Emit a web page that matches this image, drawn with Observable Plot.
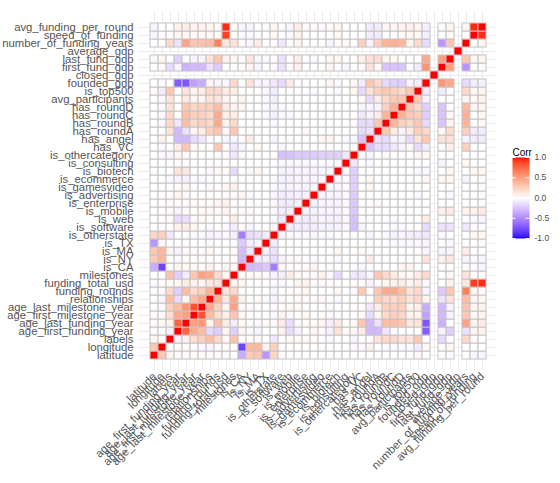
<!DOCTYPE html>
<html>
<head>
<meta charset="utf-8">
<script src="https://cdn.jsdelivr.net/npm/d3@7"></script>
<script src="https://cdn.jsdelivr.net/npm/@observablehq/plot@0.6"></script>
<style>
  body { margin: 0; background: #fff; }
  #wrap { position: relative; width: 560px; height: 483px; background: #fff; }
  #legend { position: absolute; left: 495px; top: 130px; }
</style>
</head>
<body>
<div id="wrap"><div id="legend"></div></div>
<script>
const vars = ["latitude","longitude","labels","age_first_funding_year","age_last_funding_year",
  "age_first_milestone_year","age_last_milestone_year","relationships","funding_rounds","funding_total_usd",
  "milestones","is_CA","is_NY","is_MA","is_TX","is_otherstate","is_software","is_web","is_mobile",
  "is_enterprise","is_advertising","is_gamesvideo","is_ecommerce","is_biotech","is_consulting",
  "is_othercategory","has_VC","has_angel","has_roundA","has_roundB","has_roundC","has_roundD",
  "avg_participants","is_top500","founded_gdp","closed_gdp","first_fund_gdp","last_fund_gdp",
  "average_gdp","number_of_funding_years","speed_of_funding","avg_funding_per_round"];

// lower-triangle correlations: row k holds corr with vars[0..k-1]; null = NA
const r_latitude = [];
const r_longitude = [0.30];
const r_labels = [0.05, 0.00];
const r_age_first_funding_year = [0.02, 0.02, -0.06];
const r_age_last_funding_year = [0.02, 0.03, 0.07, 0.78];
const r_age_first_milestone_year = [0.03, 0.02, 0.18, 0.45, 0.50];
const r_age_last_milestone_year = [0.02, -0.03, 0.25, 0.35, 0.55, 0.85];
const r_relationships = [0.02, -0.04, 0.35, -0.15, 0.05, 0.35, 0.45];
const r_funding_rounds = [0.02, 0.02, 0.20, -0.20, 0.35, 0.18, 0.25, 0.40];
const r_funding_total_usd = [-0.03, 0.02, 0.04, 0.05, 0.10, 0.08, 0.05, 0.12, 0.15];
const r_milestones = [0.00, 0.01, 0.33, -0.20, -0.08, 0.30, 0.50, 0.45, 0.20, 0.05];
const r_is_CA = [-0.35, -0.80, 0.02, 0.05, 0.04, 0.04, 0.02, 0.07, 0.02, 0.05,
  0.04];
const r_is_NY = [0.28, 0.38, 0.00, -0.03, 0.02, 0.00, -0.02, 0.00, 0.00, 0.00,
  0.02, -0.30];
const r_is_MA = [0.30, 0.38, 0.03, -0.05, -0.03, 0.02, 0.02, 0.04, 0.00, 0.00,
  0.03, -0.27, -0.10];
const r_is_TX = [-0.45, 0.05, 0.00, 0.00, 0.02, 0.00, 0.00, -0.02, 0.00, 0.00,
  -0.02, -0.22, -0.07, -0.05];
const r_is_otherstate = [0.22, 0.25, -0.10, 0.00, 0.02, -0.03, -0.02, -0.05, -0.04, -0.02,
  -0.06, -0.55, -0.14, -0.12, -0.08];
const r_is_software = [0.00, 0.02, 0.00, 0.07, 0.10, 0.06, 0.02, -0.03, 0.00, -0.02,
  -0.07, 0.04, -0.05, 0.00, 0.00, -0.04];
const r_is_web = [0.00, 0.00, 0.02, -0.15, -0.14, -0.02, 0.04, 0.00, 0.00, 0.00,
  0.10, 0.00, 0.02, 0.00, 0.00, -0.02, -0.09];
const r_is_mobile = [0.00, 0.00, 0.03, -0.05, -0.02, 0.00, 0.03, 0.04, 0.02, 0.06,
  0.03, 0.02, -0.02, 0.00, 0.00, -0.03, -0.08, -0.07];
const r_is_enterprise = [0.00, 0.00, 0.03, 0.00, 0.02, 0.04, 0.02, 0.02, 0.05, 0.08,
  0.02, 0.02, 0.00, 0.02, 0.00, -0.03, -0.08, -0.08, -0.06];
const r_is_advertising = [0.00, 0.00, 0.02, 0.05, 0.03, 0.00, 0.00, 0.02, 0.00, 0.02,
  -0.02, 0.06, -0.03, 0.00, 0.00, -0.04, -0.08, -0.07, -0.06, -0.06];
const r_is_gamesvideo = [0.00, 0.02, 0.00, 0.02, 0.05, 0.02, 0.00, 0.03, 0.00, 0.03,
  0.08, 0.00, 0.02, 0.00, 0.00, -0.02, -0.06, -0.05, -0.05, -0.05,
  -0.04];
const r_is_ecommerce = [0.00, 0.00, -0.03, -0.06, -0.07, -0.03, -0.02, 0.00, 0.00, 0.00,
  -0.02, 0.02, 0.00, 0.00, 0.00, -0.02, -0.06, -0.06, -0.05, -0.05,
  -0.05, -0.03];
const r_is_biotech = [0.02, 0.00, 0.00, 0.15, 0.12, 0.02, 0.00, -0.03, 0.04, 0.02,
  -0.15, 0.00, -0.03, 0.05, 0.02, 0.00, -0.06, -0.06, -0.05, -0.05,
  -0.05, -0.04, -0.04];
const r_is_consulting = [0.00, 0.00, 0.00, 0.02, 0.00, 0.00, 0.00, 0.00, 0.00, 0.00,
  0.00, 0.00, 0.00, 0.00, 0.00, 0.00, -0.03, -0.03, -0.03, -0.03,
  -0.03, -0.02, -0.02, -0.02];
const r_is_othercategory = [0.00, -0.03, -0.04, 0.05, 0.03, 0.00, 0.00, 0.00, -0.02, -0.02,
  -0.10, -0.02, 0.00, 0.00, 0.00, 0.02, -0.27, -0.26, -0.23, -0.23,
  -0.22, -0.20, -0.20, -0.20, -0.10];
const r_has_VC = [0.00, -0.03, 0.00, 0.10, 0.30, 0.04, 0.02, 0.00, 0.30, 0.02,
  -0.10, -0.04, 0.00, 0.04, 0.00, 0.00, -0.04, 0.00, 0.00, 0.00,
  0.00, 0.00, 0.00, 0.00, 0.00, -0.03];
const r_has_angel = [0.00, 0.07, 0.00, -0.30, -0.30, -0.15, -0.10, 0.00, 0.00, -0.04,
  -0.04, 0.00, 0.10, 0.00, 0.00, -0.04, 0.00, 0.02, 0.00, 0.00,
  0.00, 0.05, 0.05, 0.00, -0.03, -0.04, -0.25];
const r_has_roundA = [0.00, 0.00, 0.15, -0.30, -0.12, 0.05, 0.10, 0.25, 0.30, 0.03,
  0.30, 0.00, 0.00, 0.00, 0.00, 0.00, 0.00, 0.00, 0.00, 0.03,
  0.00, 0.00, 0.00, 0.00, 0.00, 0.00, -0.15, -0.12];
const r_has_roundB = [0.00, -0.03, 0.20, -0.10, 0.35, 0.20, 0.25, 0.20, 0.45, 0.05,
  0.20, 0.00, 0.00, 0.00, 0.00, -0.03, 0.00, 0.00, 0.00, 0.00,
  0.00, 0.00, 0.00, 0.00, 0.00, -0.02, -0.15, -0.15, 0.30];
const r_has_roundC = [0.00, -0.03, 0.20, 0.00, 0.35, 0.25, 0.25, 0.20, 0.45, 0.08,
  0.10, 0.00, 0.00, 0.00, -0.03, -0.06, -0.03, -0.03, 0.00, 0.00,
  0.00, 0.00, 0.00, 0.00, 0.00, 0.00, -0.10, -0.05, 0.10, 0.40];
const r_has_roundD = [0.00, -0.03, 0.15, 0.00, 0.30, 0.22, 0.25, 0.25, 0.35, 0.10,
  0.05, 0.05, 0.00, 0.00, -0.03, -0.04, -0.03, 0.00, 0.00, 0.00,
  0.00, 0.00, 0.00, 0.00, 0.00, 0.00, -0.05, -0.05, -0.05, 0.25,
  0.42];
const r_avg_participants = [0.00, -0.03, 0.15, 0.00, 0.12, 0.06, 0.06, 0.15, 0.15, 0.05,
  0.02, 0.06, 0.00, 0.00, -0.03, -0.07, 0.00, 0.00, 0.00, 0.00,
  0.00, 0.00, 0.00, 0.00, 0.00, 0.00, 0.05, -0.15, 0.10, 0.20,
  0.30, 0.30];
const r_is_top500 = [0.03, -0.08, 0.30, 0.00, 0.15, 0.06, 0.10, 0.20, 0.20, 0.10,
  0.10, 0.00, 0.00, 0.00, -0.03, -0.08, 0.00, 0.00, 0.00, 0.00,
  -0.03, 0.00, 0.00, -0.03, 0.00, 0.05, -0.15, 0.15, 0.25, 0.30,
  0.25, 0.20, 0.30];
const r_founded_gdp = [0.00, 0.04, 0.00, -0.70, -0.72, -0.40, -0.35, 0.05, -0.05, -0.03,
  0.20, 0.00, 0.15, -0.05, -0.05, -0.10, -0.15, 0.10, 0.00, 0.00,
  0.00, 0.00, 0.06, -0.03, 0.00, 0.04, -0.08, 0.30, 0.20, -0.15,
  -0.20, -0.20, -0.05, -0.08];
const r_closed_gdp = [];
const r_first_fund_gdp = [0.00, -0.02, -0.15, -0.05, -0.33, -0.30, -0.30, -0.12, -0.22, 0.00,
  0.00, 0.02, 0.07, -0.04, 0.00, -0.03, -0.12, 0.02, 0.08, 0.00,
  0.00, 0.00, 0.05, 0.00, -0.04, 0.00, -0.03, 0.15, 0.04, -0.25,
  -0.25, -0.25, 0.00, -0.08, 0.55, null];
const r_last_fund_gdp = [-0.03, 0.05, 0.00, -0.20, 0.00, -0.05, -0.05, 0.15, 0.30, 0.07,
  0.05, 0.00, 0.12, -0.04, -0.03, 0.00, -0.12, 0.00, 0.10, 0.00,
  -0.03, 0.00, 0.05, 0.05, 0.00, 0.00, 0.08, 0.15, 0.18, 0.05,
  0.04, 0.00, 0.00, 0.00, 0.45, null, 0.50];
const r_average_gdp = [];
const r_number_of_funding_years = [0.00, 0.00, 0.20, -0.12, 0.48, 0.30, 0.32, 0.35, 0.65, 0.12,
  0.15, 0.02, -0.04, 0.10, 0.00, 0.00, -0.10, 0.00, 0.05, 0.00,
  0.00, 0.00, -0.05, 0.00, 0.04, 0.00, 0.25, -0.05, 0.25, 0.40,
  0.42, 0.38, 0.05, 0.20, -0.15, null, -0.45, 0.30, null];
const r_speed_of_funding = [-0.04, 0.00, 0.02, 0.05, 0.05, 0.03, 0.03, 0.04, 0.04, 0.90,
  0.02, -0.02, -0.03, 0.00, 0.00, 0.04, 0.00, -0.03, 0.07, 0.00,
  0.00, 0.00, 0.00, 0.04, 0.00, 0.00, 0.00, -0.08, -0.08, 0.00,
  0.00, 0.04, 0.04, 0.04, -0.07, null, 0.00, 0.04, null, 0.00];
const r_avg_funding_per_round = [-0.05, 0.00, 0.00, 0.07, 0.10, 0.06, 0.07, 0.05, 0.03, 0.95,
  0.02, -0.04, -0.04, 0.00, -0.02, 0.05, 0.02, -0.04, 0.10, 0.02,
  0.02, -0.02, 0.02, 0.05, 0.00, 0.00, 0.00, -0.08, -0.08, 0.04,
  0.05, 0.06, 0.07, 0.06, -0.07, null, -0.02, 0.06, null, 0.05,
  0.95];

const legendTicks = [-1, -0.5, 0, 0.5, 1];

const lowerRows = [r_latitude, r_longitude, r_labels, r_age_first_funding_year, r_age_last_funding_year,
  r_age_first_milestone_year, r_age_last_milestone_year, r_relationships, r_funding_rounds, r_funding_total_usd,
  r_milestones, r_is_CA, r_is_NY, r_is_MA, r_is_TX, r_is_otherstate, r_is_software, r_is_web, r_is_mobile,
  r_is_enterprise, r_is_advertising, r_is_gamesvideo, r_is_ecommerce, r_is_biotech, r_is_consulting,
  r_is_othercategory, r_has_VC, r_has_angel, r_has_roundA, r_has_roundB, r_has_roundC, r_has_roundD,
  r_avg_participants, r_is_top500, r_founded_gdp, r_closed_gdp, r_first_fund_gdp, r_last_fund_gdp,
  r_average_gdp, r_number_of_funding_years, r_speed_of_funding, r_avg_funding_per_round];

const cells = [];
vars.forEach((yv, i) => {
  vars.forEach((xv, j) => {
    const v = i === j ? 1 : (i > j ? lowerRows[i][j] : lowerRows[j][i]);
    if (v != null) cells.push({x: xv, y: yv, value: v});
  });
});

const colorOpts = {type: "linear", domain: [-1, 0, 1], range: ["blue", "white", "red"], interpolate: d3.interpolateLab};
const font = "'Liberation Sans', Arial, sans-serif";

const chart = Plot.plot({
  width: 560, height: 483,
  marginLeft: 138, marginRight: 63, marginTop: 11, marginBottom: 113,
  x: {domain: vars, padding: 0},
  y: {domain: vars.slice().reverse(), padding: 0},
  color: colorOpts,
  style: {fontFamily: font, background: "white", color: "#4d4d4d"},
  marks: [
    Plot.gridX({stroke: "#ebebeb", strokeOpacity: 1}),
    Plot.gridY({stroke: "#ebebeb", strokeOpacity: 1}),
    Plot.cell(cells, {x: "x", y: "y", fill: "value", stroke: "#c4c4c4", strokeWidth: 1, inset: 0}),
    Plot.axisX({tickRotate: -45, tickSize: 0, tickPadding: 4, fontSize: 11.3, fill: "#555555", label: null}),
    Plot.axisY({tickSize: 0, tickPadding: 5, fontSize: 11.3, fill: "#555555", label: null})
  ]
});
document.getElementById("wrap").prepend(chart);

const legend = Plot.plot({
  width: 65, height: 120,
  marginLeft: 17, marginRight: 31, marginTop: 27, marginBottom: 12,
  x: {domain: [0, 1], axis: null},
  y: {domain: [-1, 1], axis: null},
  color: colorOpts,
  style: {fontFamily: font, background: "white", color: "#4d4d4d"},
  marks: [
    Plot.raster({x1: 0, x2: 1, y1: -1, y2: 1, width: 1, height: 200, fill: (x, y) => y}),
    Plot.ruleY(legendTicks, {x1: 0, x2: 0.2, stroke: "white", strokeWidth: 1}),
    Plot.ruleY(legendTicks, {x1: 0.8, x2: 1, stroke: "white", strokeWidth: 1}),
    Plot.axisY(legendTicks, {anchor: "right", tickSize: 0, tickPadding: 5, fontSize: 8.5, fill: "#4d4d4d", tickFormat: d => d.toFixed(1), label: null}),
    Plot.text(["Corr"], {frameAnchor: "top-left", dy: -9, textAnchor: "start", fontSize: 10, fill: "black"})
  ]
});
document.getElementById("legend").appendChild(legend);
</script>
</body>
</html>
